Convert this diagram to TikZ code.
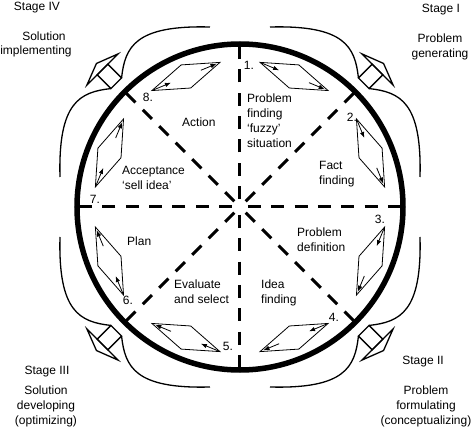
\documentclass[tikz,border=0pt]{standalone}
\usepackage{fontspec}
\setmainfont{Liberation Sans}
\usetikzlibrary{calc,arrows.meta}
\begin{document}
\begin{tikzpicture}[x=1pt,y=1pt,
  txt/.style={font=\fontsize{12}{15}\selectfont, inner sep=0pt},
  lbl/.style={txt, align=left, anchor=west},
  ctr/.style={txt, align=center},
  rim/.style={line width=5.5pt},
  spoke/.style={line width=3pt, dash pattern=on 13pt off 10.3pt},
  rhomb/.style={line width=0.8pt, line join=miter},
  flowarrow/.style={line width=0.8pt, -{Latex[length=6pt,width=4.5pt]}},
  stagecurve/.style={line width=1.3pt},
  blockarrow/.style={line width=1.3pt, line join=miter}]
\useasboundingbox (-240,-221) rectangle (234,207);
\coordinate (c) at (0,0);
% spokes
\foreach \a in {0,45,...,315}{
  \coordinate (in\a) at (\a:8);
  \coordinate (out\a) at (\a:163);
  \draw[spoke] (in\a) -- (out\a);
}
% rim
\draw[rim] (c) circle (163);
% rhombi with flow arrows
\foreach \k in {1,...,8}{
  \pgfmathsetmacro\t{67.5-45*(\k-1)}
  \pgfmathsetmacro\tp{\t+14.6}
  \pgfmathsetmacro\tm{\t-14.6}
  \coordinate (P\k) at (\tp:146);
  \coordinate (Q\k) at (\tm:146);
  \coordinate (O\k) at (\t:153.8);
  \coordinate (I\k) at (\t:128.8);
  \draw[rhomb] (P\k) -- (O\k) -- (Q\k) -- (I\k) -- cycle;
  \draw[flowarrow] ($(P\k)!0.02!(Q\k)$) -- ($(P\k)!0.28!(Q\k)$);
  \draw[flowarrow] ($(P\k)!0.72!(Q\k)$) -- ($(P\k)!0.95!(Q\k)$);
}
% numbers
\node[txt] (n1) at (9,142) {1.};
\node[txt] (n2) at (112,90) {2.};
\node[txt] (n3) at (140,-12) {3.};
\node[txt] (n4) at (94,-110) {4.};
\node[txt] (n5) at (-12,-139) {5.};
\node[txt] (n6) at (-112,-93) {6.};
\node[txt] (n7) at (-145,8) {7.};
\node[txt] (n8) at (-92,110) {8.};
% sector labels
\node[lbl] (s1) at (7,86.5) {Problem\\finding\\‘fuzzy’\\situation};
\node[lbl] (s2) at (79,33) {Fact\\finding};
\node[lbl] (s3) at (57,-33) {Problem\\definition};
\node[lbl] (s4) at (21,-86) {Idea\\finding};
\node[lbl] (s5) at (-66,-85) {Evaluate\\and select};
\node[lbl] (s6) at (-113,-34) {Plan};
\node[lbl] (s7) at (-118,29.5) {Acceptance\\‘sell idea’};
\node[lbl] (s8) at (-58,85) {Action};
% stage curves and block arrows
\foreach \r in {0,90,180,270}{
  \begin{scope}[rotate=\r]
    \begin{scope}[rotate=45, xshift=175pt]
      \coordinate (A\r) at (0,7.5);
      \coordinate (B\r) at (0,-7.5);
      \draw[blockarrow] (0,-7.5) -- (19.5,-7.5) -- (19.5,7.5) -- (0,7.5) -- cycle;
      \draw[blockarrow] (19.5,-22) -- (28,0) -- (19.5,22) -- cycle;
    \end{scope}
    \coordinate (S\r) at (30,180);
    \coordinate (E\r) at (180,30);
    \draw[stagecurve] (S\r) .. controls (105,182) and (115,160) .. (A\r);
    \draw[stagecurve] (B\r) .. controls (160,115) and (182,105) .. (E\r);
  \end{scope}
}
% stage labels
\node[ctr] (st1) at (201,197) {Stage I};
\node[ctr] (d1) at (200,160.5) {Problem\\generating};
\node[ctr] (st2) at (183,-155) {Stage II};
\node[ctr] (d2) at (186,-199.5) {Problem\\formulating\\(conceptualizing)};
\node[ctr] (st3) at (-193,-165) {Stage III};
\node[ctr] (d3) at (-194,-199.5) {Solution\\developing\\(optimizing)};
\node[ctr] (st4) at (-203,199) {Stage IV};
\node[ctr] (d4a) at (-196,171) {Solution};
\node[ctr] (d4b) at (-204,156) {implementing};
\end{tikzpicture}
\end{document}
